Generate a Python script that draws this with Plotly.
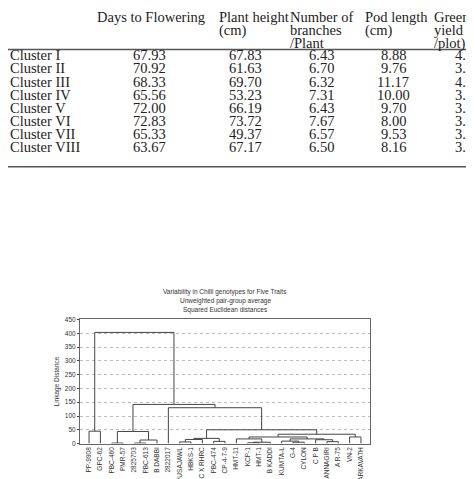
import plotly.graph_objects as go

W, H = 474, 479

# ---- table data ----
clusters = ["Cluster I", "Cluster II", "Cluster III", "Cluster IV",
            "Cluster V", "Cluster VI", "Cluster VII", "Cluster VIII"]
days_flowering = ["67.93", "70.92", "68.33", "65.56", "72.00", "72.83", "65.33", "63.67"]
plant_height = ["67.83", "61.63", "69.70", "53.23", "66.19", "73.72", "49.37", "67.17"]
branches = ["6.43", "6.70", "6.32", "7.31", "6.43", "7.67", "6.57", "6.50"]
pod_length = ["8.88", "9.76", "11.17", "10.00", "9.70", "8.00", "9.53", "8.16"]
green_pod = ["4.08", "3.65", "4.13", "3.93", "3.76", "3.68", "3.55", "3.07"]

# ---- dendrogram data ----
leaves = ["PP-9908", "GPC-62", "PBC-460", "PMR-57", "2825703", "PBC-613", "B DABBI",
          "2822017", "PUSAJAWL", "HBKS-1", "C X RHRC", "PBC-474", "CP-4-7-9", "HMT-11",
          "KCP-1", "HMT-1", "B KADDI", "KUMTA-L", "G-4", "CYLON", "C P B", "ANNAGIRI",
          "A R-75", "VN-2", "ARKAVATH"]
merge_left = [0, 2, 4, 27, 26, 8, 30, 11, 31, 14, 34, 13, 18, 17, 21, 20, 38, 36, 23, 42, 33, 7, 29, 25]
merge_right = [1, 3, 5, 6, 28, 9, 10, 12, 32, 15, 16, 35, 19, 37, 22, 39, 40, 41, 24, 43, 44, 45, 46, 47]
merge_height = [45, 2, 2, 13, 44, 6, 15, 8, 19, 3, 5, 17, 5, 9, 7, 14, 17, 24, 24, 34, 50, 130, 142, 403]


def px(x):
    return x / W


def py(y):
    return 1 - y / H


fig = go.Figure()
annotations = []
shapes = []
tfont = dict(family="Liberation Serif", size=14.5, color="#222")

headers = [
    (87, ["Days to Flowering"]),
    (209, ["Plant height", "(cm)"]),
    (280, ["Number of", "branches", "/Plant"]),
    (355, ["Pod length", "(cm)"]),
    (424, ["Green Pod", "yield (kg", "/plot)"]),
]
for x, lines in headers:
    for i, t in enumerate(lines):
        annotations.append(dict(x=px(x), y=py(5 + 13.3 * i), xref="paper", yref="paper",
                                text=t, showarrow=False, xanchor="left", yanchor="middle", font=tfont))

cols = [(141, days_flowering), (237, plant_height), (313, branches), (385, pod_length)]
for r, name in enumerate(clusters):
    y = py(44 + 13.3 * r)
    annotations.append(dict(x=0, y=y, xref="paper", yref="paper", text=name, showarrow=False,
                            xanchor="left", yanchor="middle", font=tfont))
    for x, vals in cols:
        annotations.append(dict(x=px(x), y=y, xref="paper", yref="paper", text=vals[r],
                                showarrow=False, xanchor="center", yanchor="middle", font=tfont))
    annotations.append(dict(x=px(474), y=y, xref="paper", yref="paper", text=green_pod[r],
                            showarrow=False, xanchor="right", yanchor="middle", font=tfont))

for yy, w in [(38, 1.5), (157, 1.5)]:
    shapes.append(dict(type="line", xref="paper", yref="paper", x0=0, x1=1,
                       y0=py(yy), y1=py(yy), line=dict(color="#555", width=w)))

# dendrogram coordinates
pos = {i: i + 1 for i in range(len(leaves))}
hgt = {i: 0 for i in range(len(leaves))}
xs, ys = [], []
for k, (a, b, h) in enumerate(zip(merge_left, merge_right, merge_height)):
    node = len(leaves) + k
    xs += [pos[a], pos[a], pos[b], pos[b], None]
    ys += [hgt[a], h, h, hgt[b], None]
    pos[node] = (pos[a] + pos[b]) / 2
    hgt[node] = h

fig.add_trace(go.Scatter(x=xs, y=ys, mode="lines", line=dict(color="#444", width=1),
                         hoverinfo="skip", showlegend=False))

sfont = dict(family="Liberation Sans", size=6.5, color="#333")
for i, t in enumerate(["Variability in Chilli genotypes for Five Traits",
                       "Unweighted pair-group average", "Squared Euclidean distances"]):
    annotations.append(dict(x=px(217), y=py(284 + 9 * i), xref="paper", yref="paper", text=t,
                            showarrow=False, xanchor="center", yanchor="middle", font=sfont))

fig.update_layout(
    width=W, height=H, margin=dict(l=0, r=0, t=0, b=0),
    paper_bgcolor="white", plot_bgcolor="white",
    annotations=annotations, shapes=shapes,
    xaxis=dict(domain=[px(72), px(362)], range=[0.2, 25.8],
               tickvals=list(range(1, len(leaves) + 1)), ticktext=leaves, tickangle=-90,
               tickfont=sfont, showgrid=False, zeroline=False, showline=True, mirror=True,
               linecolor="#666", linewidth=1, ticks="", automargin=False),
    yaxis=dict(domain=[py(438), py(312)], range=[0, 450], dtick=50, tickfont=sfont,
               showgrid=True, gridcolor="#bbb", griddash="dot", zeroline=False,
               showline=True, mirror=True, linecolor="#666", linewidth=1,
               ticks="outside", ticklen=2,
               title=dict(text="Linkage Distance", font=sfont, standoff=4)),
)

fig.write_html("out.html")
